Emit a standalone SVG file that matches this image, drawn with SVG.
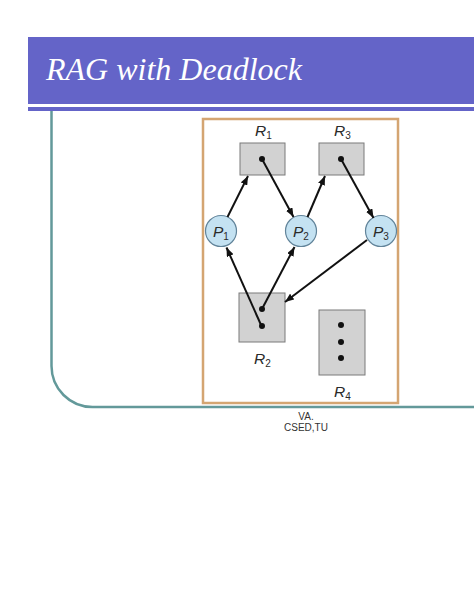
<svg xmlns="http://www.w3.org/2000/svg" width="474" height="613" viewBox="0 0 474 613">
<style>
.title{font-family:"Liberation Serif","Times New Roman",serif;font-style:italic;font-size:32px;fill:#ffffff}
.res{fill:#d2d2d2;stroke:#7a7a7a;stroke-width:1}
.proc{fill:#c4e2f2;stroke:#62849a;stroke-width:1.2}
.lbl{font-family:"Liberation Sans",Arial,sans-serif;font-style:italic;font-size:15.5px;fill:#2a2a2a}
.sub{font-size:10px;font-style:normal}
.dot{fill:#111}
.edge{stroke:#111;stroke-width:2;fill:none;marker-end:url(#ah)}
.foot{font-family:"Liberation Sans",Arial,sans-serif;font-size:10px;fill:#333;text-anchor:middle}
</style>
<defs>
<marker id="ah" viewBox="0 0 10 8" refX="10" refY="4" markerWidth="9" markerHeight="7.2" markerUnits="userSpaceOnUse" orient="auto">
<path d="M0,0 L10,4 L0,8 z" fill="#111"/>
</marker>
</defs>
<rect x="0" y="0" width="474" height="613" fill="#ffffff"/>
<g id="header">
<rect x="28" y="37" width="446" height="67" fill="#6464c8"/>
<rect x="28" y="107" width="446" height="4" fill="#6464c8"/>
<text class="title" x="46" y="80">RAG with Deadlock</text>
</g>
<path id="slide-border" d="M51.5,111 V366 A41,41 0 0 0 92.5,407 H474" fill="none" stroke="#63999a" stroke-width="2.5"/>
<rect id="frame" x="203" y="119" width="195" height="284" fill="#ffffff" stroke="#d4a572" stroke-width="2.5"/>
<g id="R1">
<rect class="res" x="240" y="143" width="45" height="32"/>
<circle class="dot" cx="262" cy="159" r="3"/>
<text class="lbl" x="255" y="136">R<tspan class="sub" dy="3">1</tspan></text>
</g>
<g id="R3">
<rect class="res" x="319" y="143" width="45" height="32"/>
<circle class="dot" cx="341" cy="159" r="3"/>
<text class="lbl" x="334" y="136">R<tspan class="sub" dy="3">3</tspan></text>
</g>
<g id="P1">
<circle class="proc" cx="221" cy="231" r="15.5"/>
<text class="lbl" x="213" y="237">P<tspan class="sub" dy="3">1</tspan></text>
</g>
<g id="P2">
<circle class="proc" cx="301" cy="231" r="15.5"/>
<text class="lbl" x="293" y="237">P<tspan class="sub" dy="3">2</tspan></text>
</g>
<g id="P3">
<circle class="proc" cx="381" cy="231" r="15.5"/>
<text class="lbl" x="373" y="237">P<tspan class="sub" dy="3">3</tspan></text>
</g>
<g id="R2">
<rect class="res" x="239" y="293" width="46" height="49"/>
<circle class="dot" cx="262" cy="309" r="3"/>
<circle class="dot" cx="262" cy="326" r="3"/>
<text class="lbl" x="254" y="364">R<tspan class="sub" dy="3">2</tspan></text>
</g>
<g id="R4">
<rect class="res" x="319" y="310" width="46" height="65"/>
<circle class="dot" cx="341" cy="325" r="3"/>
<circle class="dot" cx="341" cy="342" r="3"/>
<circle class="dot" cx="341" cy="358" r="3"/>
<text class="lbl" x="334" y="397">R<tspan class="sub" dy="3">4</tspan></text>
</g>
<g id="connectors">
<line class="edge" x1="227.5" y1="217" x2="248" y2="176"/>
<line class="edge" x1="262" y1="159" x2="293.5" y2="217"/>
<line class="edge" x1="307.5" y1="217" x2="325" y2="176"/>
<line class="edge" x1="341" y1="159" x2="373.5" y2="218"/>
<line class="edge" x1="367" y1="240" x2="285" y2="302"/>
<line class="edge" x1="261.5" y1="326" x2="226.5" y2="247.5"/>
<line class="edge" x1="262" y1="309" x2="294.5" y2="247"/>
</g>
<g id="footer">
<text class="foot" x="306" y="420">VA.</text>
<text class="foot" x="306" y="431">CSED,TU</text>
</g>
</svg>
